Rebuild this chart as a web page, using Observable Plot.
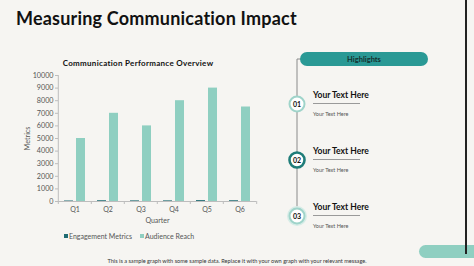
<!DOCTYPE html>
<html>
<head>
<meta charset="utf-8">
<script src="https://cdn.jsdelivr.net/npm/d3@7"></script>
<script src="https://cdn.jsdelivr.net/npm/@observablehq/plot@0.6"></script>
<style>
  html, body { margin: 0; padding: 0; overflow: hidden; }
  body { width: 474px; height: 266px; background: #f6f5f2; position: relative; font-family: "Lato", "DejaVu Sans", sans-serif; }
  .abs { position: absolute; white-space: nowrap; }
  #title { left: 16px; top: 7px; font-size: 18px; font-weight: 700; color: #111; letter-spacing: 0.2px; }
  #subtitle { left: 138px; top: 58px; transform: translateX(-50%); font-size: 8px; font-weight: 700; color: #111; letter-spacing: 0.3px; }
  #chart { left: 0; top: 55px; }
  #legend { left: 64px; top: 232px; font-size: 7px; color: #555; display: flex; gap: 8px; }
  #legend div { color: #555; }
  #legend span.sw { display: inline-block; width: 4px; height: 4px; margin-right: 1px; vertical-align: 1px; }
  #note { left: 237px; top: 257px; transform: translateX(-50%); font-size: 5.6px; color: #333; }
  #panel { left: 0; top: 0; }
  #edge { left: 465px; top: 0; width: 2px; height: 254px; background: #222; z-index: 5; }
</style>
</head>
<body>
<div id="title" class="abs">Measuring Communication Impact</div>
<div id="subtitle" class="abs">Communication Performance Overview</div>
<div id="chart" class="abs"></div>
<div id="legend" class="abs"></div>
<div id="note" class="abs">This is a sample graph with some sample data. Replace it with your own graph with your relevant message.</div>
<svg id="panel" class="abs" width="474" height="266"></svg>
<div id="edge" class="abs"></div>
<script>
const quarters = ["Q1", "Q2", "Q3", "Q4", "Q5", "Q6"];
const seriesNames = ["Engagement Metrics", "Audience Reach"];
const engagement = [40, 60, 50, 50, 70, 60];
const reach = [5000, 7000, 6000, 8000, 9000, 7500];
const yTicks = [0, 1000, 2000, 3000, 4000, 5000, 6000, 7000, 8000, 9000, 10000];
const colors = ["#1f6b72", "#8fcfc1"];
const highlightNums = ["01", "02", "03"];
const highlightTitles = ["Your Text Here", "Your Text Here", "Your Text Here"];
const highlightTexts = ["Your Text Here", "Your Text Here", "Your Text Here"];

const data = [];
quarters.forEach((q, i) => {
  data.push({q, s: seriesNames[0], v: engagement[i]});
  data.push({q, s: seriesNames[1], v: reach[i]});
});

const W = 270, ML = 55, MR = 12;
const fxStep = (W - ML - MR) / quarters.length;
const pIn = 0.24, pOut = 0.48;
const step = fxStep / (2 - pIn + 2 * pOut);
const edge = step * pOut + step * (1 - pIn) / 2;

const axisColor = "#bdbdbd";
const textColor = "#555";
const plot = Plot.plot({
  width: W, height: 175,
  marginLeft: ML, marginRight: MR, marginTop: 20, marginBottom: 29,
  style: {background: "transparent", fontFamily: "Lato, 'DejaVu Sans', sans-serif", fontSize: "7px", color: textColor},
  fx: {domain: quarters, padding: 0},
  x: {domain: seriesNames, paddingInner: pIn, paddingOuter: pOut, axis: null},
  y: {domain: [0, 10000]},
  color: {domain: seriesNames, range: colors},
  marks: [
    Plot.axisY({ticks: yTicks, tickFormat: d => String(d), tickSize: 3, tickPadding: 2, stroke: axisColor, fill: textColor,
      label: "Metrics", labelAnchor: "center", labelArrow: "none", labelOffset: 34, fontSize: 7.2}),
    Plot.axisFx({anchor: "bottom", tickSize: 0, tickPadding: 6, fontSize: 7, fill: textColor,
      label: "Quarter", labelAnchor: "center", labelArrow: "none", labelOffset: 21}),
    Plot.barY(data, {fx: "q", x: "s", y: "v", fill: "s"}),
    Plot.ruleY([0], {stroke: axisColor}),
    Plot.ruleX([0], {x: () => seriesNames[0], y1: 0, y2: 10000, dx: -edge, stroke: axisColor, facetAnchor: "left"}),
    Plot.ruleX(quarters, {fx: d => d, x: () => seriesNames[0], y1: 0, y2: 0, insetBottom: -3, dx: -edge, stroke: axisColor}),
    Plot.ruleX(quarters.slice(-1), {fx: d => d, x: () => seriesNames[1], y1: 0, y2: 0, insetBottom: -3, dx: edge, stroke: axisColor})
  ]
});
document.getElementById("chart").appendChild(plot);

const legend = document.getElementById("legend");
seriesNames.forEach((s, i) => {
  const item = document.createElement("div");
  item.innerHTML = `<span class="sw" style="background:${colors[i]}"></span>${s}`;
  legend.appendChild(item);
});

// right panel decorations
const svg = d3.select("#panel");
svg.append("rect").attr("x", 419).attr("y", 245).attr("width", 70).attr("height", 13).attr("rx", 6.5).attr("fill", "#8fcfc1");
svg.append("path").attr("d", "M301,59 H297 V209").attr("fill", "none").attr("stroke", "#8a8a8a").attr("stroke-width", 1);
svg.append("rect").attr("x", 300).attr("y", 52).attr("width", 128).attr("height", 14).attr("rx", 7).attr("fill", "#2a9995");
svg.append("text").attr("x", 364).attr("y", 59).attr("text-anchor", "middle").attr("dominant-baseline", "central")
  .attr("font-size", 7.5).attr("font-weight", 700).attr("fill", "#15302f").attr("font-family", "Lato, sans-serif").text("Highlights");
const cy = [104, 160, 216];
const ring = ["#9fd4ca", "#1f7d79", "#9fd4ca"];
const ringW = [2, 2.6, 2];
highlightNums.forEach((n, i) => {
  if (i === 2) svg.append("circle").attr("cx", 297).attr("cy", cy[i]).attr("r", 10).attr("fill", "#d6ece7");
  svg.append("circle").attr("cx", 297).attr("cy", cy[i]).attr("r", 7.5).attr("fill", "#fff").attr("stroke", ring[i]).attr("stroke-width", ringW[i]);
  svg.append("text").attr("x", 297).attr("y", cy[i] + 0.3).attr("text-anchor", "middle").attr("dominant-baseline", "central")
    .attr("font-size", 7).attr("font-weight", 700).attr("fill", "#111").attr("font-family", "Lato, sans-serif").text(n);
  const ty = cy[i] - 9;
  svg.append("text").attr("x", 313).attr("y", ty).attr("dominant-baseline", "central")
    .attr("font-size", 8.5).attr("font-weight", 700).attr("fill", "#111").attr("font-family", "Lato, sans-serif").text(highlightTitles[i]);
  svg.append("line").attr("x1", 313).attr("x2", 360).attr("y1", cy[i] - 0.5).attr("y2", cy[i] - 0.5).attr("stroke", "#9a9a9a").attr("stroke-width", 1);
  svg.append("text").attr("x", 313).attr("y", cy[i] + 9.5).attr("dominant-baseline", "central")
    .attr("font-size", 5.5).attr("fill", "#555").attr("font-family", "Lato, sans-serif").text(highlightTexts[i]);
});
</script>
</body>
</html>
